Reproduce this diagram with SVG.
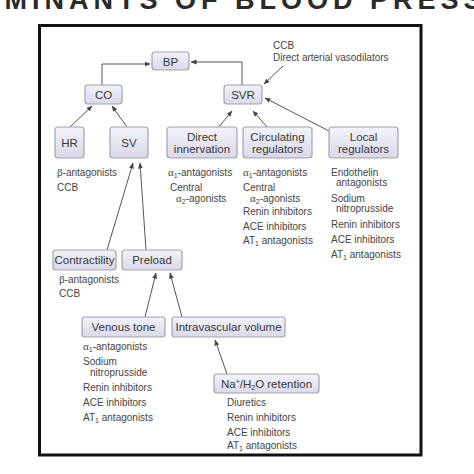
<svg xmlns="http://www.w3.org/2000/svg" width="474" height="474" viewBox="0 0 474 474">
<defs>
<linearGradient id="bx" x1="0" y1="0" x2="0" y2="1">
<stop offset="0" stop-color="#f3f3fa"/>
<stop offset="1" stop-color="#d9d9e8"/>
</linearGradient>
<marker id="ah" markerWidth="6" markerHeight="6" refX="5.5" refY="3" orient="auto" markerUnits="userSpaceOnUse">
<path d="M0,0.6 L6,3 L0,5.4 z" fill="#444"/>
</marker>
<style>
.box{fill:url(#bx);stroke:#a2a2b4;stroke-width:1.2}
.bl{font-family:"Liberation Sans",Arial,sans-serif;font-size:11.5px;fill:#383838;text-anchor:middle}
.t{font-family:"Liberation Sans",Arial,sans-serif;font-size:10px;fill:#454545}
.g{font-family:"Liberation Serif","Times New Roman",serif;font-size:11px}
.c{fill:none;stroke:#555;stroke-width:1;marker-end:url(#ah)}
</style>
</defs>
<rect width="474" height="474" fill="#fff"/>
<text x="-112" y="9" font-family="'Liberation Sans',Arial,sans-serif" font-weight="bold" font-size="27" letter-spacing="5" fill="#2a2a2a">DETERMINANTS OF BLOOD PRESSURE</text>
<rect x="39.5" y="25.5" width="381.5" height="429.5" fill="none" stroke="#111" stroke-width="3"/>

<g id="connectors">
<path class="c" d="M102,85 V64 H150"/>
<path class="c" d="M242,85 V62 H191"/>
<path class="c" d="M283,66 L264,84"/>
<path class="c" d="M329,131 L265,98"/>
<path class="c" d="M70,127 L92,106"/>
<path class="c" d="M127,127 L112,106"/>
<path class="c" d="M218,128 L232,111"/>
<path class="c" d="M268,128 L253,111"/>
<path class="c" d="M107,250 L133,163"/>
<path class="c" d="M146,250 L140,163"/>
<path class="c" d="M145,317 L156,273"/>
<path class="c" d="M182,317 L170,273"/>
<path class="c" d="M227,374 L215,340"/>
</g>

<g id="bp"><rect class="box" x="152" y="52" width="37" height="18" rx="3"/><text class="bl" x="170.5" y="65.5">BP</text></g>
<g id="co"><rect class="box" x="85" y="85" width="37" height="19" rx="3"/><text class="bl" x="103.5" y="98.5">CO</text></g>
<g id="svr"><rect class="box" x="224" y="85" width="38" height="19" rx="3"/><text class="bl" x="243" y="98.5">SVR</text></g>
<g id="svr-note">
<text class="t" x="273" y="49">CCB</text>
<text class="t" x="273" y="61">Direct arterial vasodilators</text>
</g>

<g id="hr"><rect class="box" x="55" y="127" width="29" height="31" rx="3"/><text class="bl" x="69.5" y="146.5">HR</text>
<text class="t" x="57" y="175.5"><tspan class="g">β</tspan>-antagonists</text>
<text class="t" x="57" y="190.5">CCB</text></g>
<g id="sv"><rect class="box" x="110" y="127" width="38" height="31" rx="3"/><text class="bl" x="129" y="146.5">SV</text></g>

<g id="direct"><rect class="box" x="167" y="127" width="70" height="31" rx="3"/>
<text class="bl" x="202" y="140.5">Direct</text><text class="bl" x="202" y="153">innervation</text>
<text class="t" x="168" y="175.5"><tspan class="g">α</tspan><tspan font-size="7" dy="2">1</tspan><tspan dy="-2">-antagonists</tspan></text>
<text class="t" x="170" y="190.5">Central</text>
<text class="t" x="176" y="201.5"><tspan class="g">α</tspan><tspan font-size="7" dy="2">2</tspan><tspan dy="-2">-agonists</tspan></text>
</g>

<g id="circ"><rect class="box" x="243" y="127" width="69" height="31" rx="3"/>
<text class="bl" x="277.5" y="140.5">Circulating</text><text class="bl" x="277.5" y="153">regulators</text>
<text class="t" x="243" y="175.5"><tspan class="g">α</tspan><tspan font-size="7" dy="2">1</tspan><tspan dy="-2">-antagonists</tspan></text>
<text class="t" x="243" y="190.5">Central</text>
<text class="t" x="250" y="201.5"><tspan class="g">α</tspan><tspan font-size="7" dy="2">2</tspan><tspan dy="-2">-agonists</tspan></text>
<text class="t" x="243" y="214.5">Renin inhibitors</text>
<text class="t" x="243" y="229.5">ACE inhibitors</text>
<text class="t" x="243" y="243.5">AT<tspan font-size="7" dy="2">1</tspan><tspan dy="-2"> antagonists</tspan></text>
</g>

<g id="local"><rect class="box" x="329" y="127" width="69" height="31" rx="3"/>
<text class="bl" x="363.5" y="140.5">Local</text><text class="bl" x="363.5" y="153">regulators</text>
<text class="t" x="331" y="175.5">Endothelin</text>
<text class="t" x="336" y="185.5">antagonists</text>
<text class="t" x="331" y="201.5">Sodium</text>
<text class="t" x="336" y="211.5">nitroprusside</text>
<text class="t" x="331" y="227.5">Renin inhibitors</text>
<text class="t" x="331" y="242.5">ACE inhibitors</text>
<text class="t" x="331" y="257.5">AT<tspan font-size="7" dy="2">1</tspan><tspan dy="-2"> antagonists</tspan></text>
</g>

<g id="contractility"><rect class="box" x="53" y="250" width="63" height="20" rx="3"/><text class="bl" x="84.5" y="264">Contractility</text>
<text class="t" x="59" y="282.5"><tspan class="g">β</tspan>-antagonists</text>
<text class="t" x="59" y="296.5">CCB</text></g>
<g id="preload"><rect class="box" x="122" y="250" width="60" height="20" rx="3"/><text class="bl" x="152" y="264">Preload</text></g>

<g id="venous"><rect class="box" x="82" y="317" width="83" height="20" rx="3"/><text class="bl" x="123.5" y="331">Venous tone</text>
<text class="t" x="83" y="349.5"><tspan class="g">α</tspan><tspan font-size="7" dy="2">1</tspan><tspan dy="-2">-antagonists</tspan></text>
<text class="t" x="83" y="364.5">Sodium</text>
<text class="t" x="90" y="375.5">nitroprusside</text>
<text class="t" x="83" y="390.5">Renin inhibitors</text>
<text class="t" x="83" y="405.5">ACE inhibitors</text>
<text class="t" x="83" y="420.5">AT<tspan font-size="7" dy="2">1</tspan><tspan dy="-2"> antagonists</tspan></text>
</g>
<g id="intravascular"><rect class="box" x="172" y="317" width="113" height="20" rx="3"/><text class="bl" x="228.5" y="331">Intravascular volume</text></g>

<g id="na"><rect class="box" x="214" y="374" width="105" height="19" rx="3"/>
<text class="bl" x="266.5" y="388">Na<tspan font-size="7" dy="-4">+</tspan><tspan dy="4">/H</tspan><tspan font-size="7" dy="2">2</tspan><tspan dy="-2">O retention</tspan></text>
<text class="t" x="227" y="405.5">Diuretics</text>
<text class="t" x="227" y="420.5">Renin inhibitors</text>
<text class="t" x="227" y="435.5">ACE inhibitors</text>
<text class="t" x="227" y="449">AT<tspan font-size="7" dy="2">1</tspan><tspan dy="-2"> antagonists</tspan></text>
</g>
</svg>
